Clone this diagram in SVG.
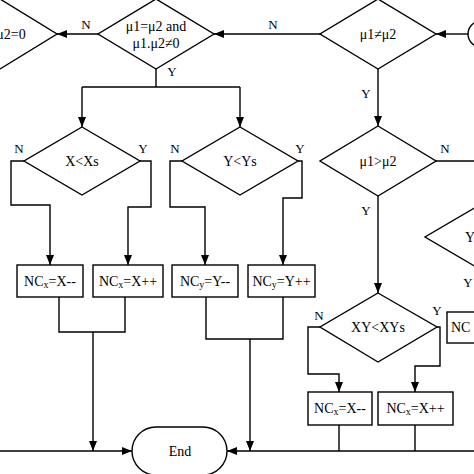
<svg xmlns="http://www.w3.org/2000/svg" width="474" height="474" viewBox="0 0 474 474">
<defs>
<marker id="ah" markerWidth="10" markerHeight="8" refX="10" refY="4" orient="auto" markerUnits="userSpaceOnUse">
<path d="M0,0 L10,4 L0,8 Z" fill="#000"/>
</marker>
<style>
.s{fill:#fff;stroke:#000;stroke-width:1.4}
.c{fill:none;stroke:#000;stroke-width:1.4}
.a{fill:none;stroke:#000;stroke-width:1.4;marker-end:url(#ah)}
text{font-family:"Liberation Serif","Times New Roman",serif;font-size:14px;fill:#000}
.m{text-anchor:middle}
.sub{font-size:10px}
.l{font-size:13px}
</style>
</defs>
<rect width="474" height="474" fill="#fff"/>
<g id="connectors">
<path class="a" d="M468,34 L436,34"/>
<path class="a" d="M320,34 L214,34"/>
<path class="a" d="M98,34 L57,34"/>
<path class="c" d="M156,69 L156,87 M82,87 L240,87"/>
<path class="a" d="M82,87 L82,127"/>
<path class="a" d="M240,87 L240,127"/>
<path class="a" d="M378,69 L378,126"/>
<path class="a" d="M24,161 L11,161 L11,205 L50,205 L50,265"/>
<path class="a" d="M140,161 L151,161 L151,207 L128,207 L128,265"/>
<path class="a" d="M182,161 L170,161 L170,207 L205,207 L205,265"/>
<path class="a" d="M298,161 L302,161 L302,198 L283,198 L283,265"/>
<path class="c" d="M59,297 L59,332 L125,332 L125,297"/>
<path class="a" d="M93,332 L93,451"/>
<path class="c" d="M206,297 L206,339 L283,339 L283,297"/>
<path class="a" d="M250,339 L250,451"/>
<path class="a" d="M378,196 L378,293"/>
<path class="c" d="M436,161 L474,161"/>
<path class="a" d="M320,327 L308,327 L308,374 L339,374 L339,392"/>
<path class="a" d="M437,327 L440,327 L440,366 L415,366 L415,392"/>
<path class="c" d="M339,425 L339,451 M415,425 L415,451"/>
<path class="a" d="M474,451 L227,451"/>
<path class="a" d="M0,451 L132,451"/>
</g>
<g id="labels">
<text x="86" y="29" class="m l">N</text>
<text x="273" y="29" class="m l">N</text>
<text x="172" y="76" class="m l">Y</text>
<text x="366" y="98" class="m l">Y</text>
<text x="19" y="153" class="m l">N</text>
<text x="143" y="153" class="m l">Y</text>
<text x="175" y="153" class="m l">N</text>
<text x="300" y="153" class="m l">Y</text>
<text x="445" y="153" class="m l">N</text>
<text x="366" y="215" class="m l">Y</text>
<text x="468" y="287" class="m l">Y</text>
<text x="319" y="320" class="m l">N</text>
<text x="437" y="315" class="m l">Y</text>
</g>
<g id="start">
<rect class="s" x="468" y="21" width="80" height="26" rx="13"/>
</g>
<g id="d_left">
<polygon class="s" points="0,-1 57,34 0,69 -57,34"/>
<text x="2" y="39" class="m">μ1.μ2=0</text>
</g>
<g id="d_mid">
<polygon class="s" points="156,-1 214,34 156,69 98,34"/>
<text x="156" y="31" class="m">μ1=μ2 and</text>
<text x="156" y="48" class="m">μ1.μ2≠0</text>
</g>
<g id="d_ne">
<polygon class="s" points="378,-1 436,34 378,69 320,34"/>
<text x="378" y="39" class="m">μ1≠μ2</text>
</g>
<g id="d_xs">
<polygon class="s" points="82,127 140,161 82,195 24,161"/>
<text x="82" y="166" class="m">X&lt;Xs</text>
</g>
<g id="d_ys">
<polygon class="s" points="240,127 298,161 240,195 182,161"/>
<text x="240" y="166" class="m">Y&lt;Ys</text>
</g>
<g id="d_gt">
<polygon class="s" points="378,126 436,161 378,196 320,161"/>
<text x="378" y="166" class="m">μ1&gt;μ2</text>
</g>
<g id="d_partial">
<polygon class="s" points="483,203 541,237 483,271 425,237"/>
<text x="465" y="242">Y</text>
</g>
<g id="d_xy">
<polygon class="s" points="378,293 437,327 378,362 320,327"/>
<text x="378" y="332" class="m">XY&lt;XYs</text>
</g>
<g id="b1">
<rect class="s" x="17" y="265" width="66" height="32"/>
<text x="50" y="286" class="m">NC<tspan class="sub" dy="2">x</tspan><tspan dy="-2">=X--</tspan></text>
</g>
<g id="b2">
<rect class="s" x="93" y="265" width="70" height="32"/>
<text x="128" y="286" class="m">NC<tspan class="sub" dy="2">x</tspan><tspan dy="-2">=X++</tspan></text>
</g>
<g id="b3">
<rect class="s" x="172" y="265" width="66" height="32"/>
<text x="205" y="286" class="m">NC<tspan class="sub" dy="2">y</tspan><tspan dy="-2">=Y--</tspan></text>
</g>
<g id="b4">
<rect class="s" x="248" y="265" width="67" height="32"/>
<text x="281.5" y="286" class="m">NC<tspan class="sub" dy="2">y</tspan><tspan dy="-2">=Y++</tspan></text>
</g>
<g id="b5">
<rect class="s" x="308" y="392" width="64" height="33"/>
<text x="340" y="413" class="m">NC<tspan class="sub" dy="2">x</tspan><tspan dy="-2">=X--</tspan></text>
</g>
<g id="b6">
<rect class="s" x="378" y="392" width="75" height="33"/>
<text x="415.5" y="413" class="m">NC<tspan class="sub" dy="2">x</tspan><tspan dy="-2">=X++</tspan></text>
</g>
<g id="b7">
<rect class="s" x="447" y="312" width="80" height="31"/>
<text x="451" y="332">NC</text>
</g>
<g id="end">
<rect class="s" x="132" y="427" width="95" height="48" rx="24"/>
<text x="180" y="456" class="m">End</text>
</g>
</svg>
